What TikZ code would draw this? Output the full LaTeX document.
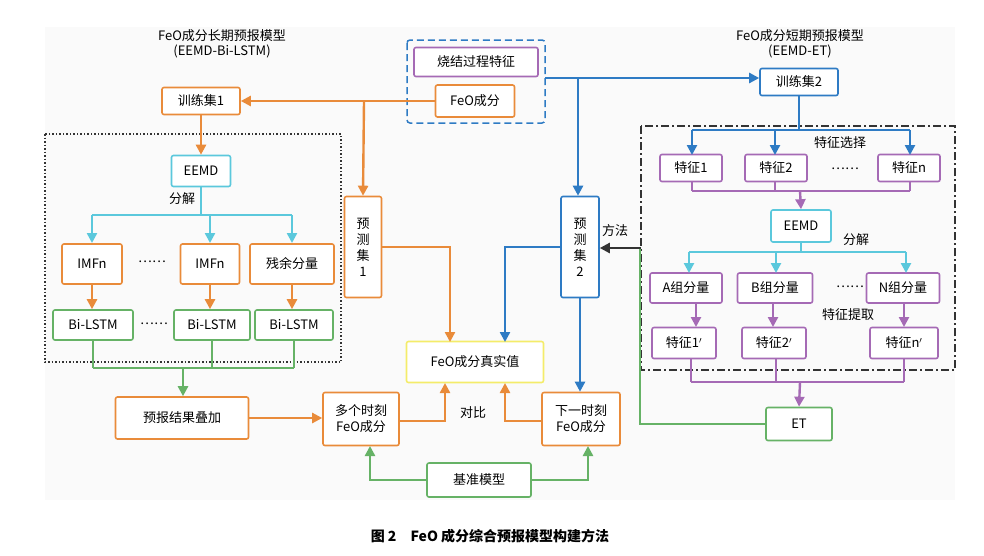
\documentclass[tikz,border=0pt]{standalone}
\usepackage{fontspec}
\setmainfont{Noto Sans CJK SC}
\usetikzlibrary{arrows.meta,calc}
\definecolor{cor}{HTML}{E98B3A}
\definecolor{cbl}{HTML}{2E7BC4}
\definecolor{ccy}{HTML}{5BC8DC}
\definecolor{cpu}{HTML}{A56AB5}
\definecolor{cgr}{HTML}{66B266}
\definecolor{cye}{HTML}{F4EC6A}
\tikzset{
 bx/.style={draw=#1,line width=1.6pt,rounded corners=2pt,fill=white,inner sep=0pt,font=\fontsize{13}{16}\selectfont,align=center},
 ln/.style={draw=#1,line width=2.4pt},
 ar/.style={draw=#1,line width=2.4pt,-{Triangle[length=10pt,width=10pt]},color=#1},
 lbl/.style={font=\fontsize{13}{15}\selectfont,inner sep=1pt},
}
\newcommand{\bxat}[7]{\node[bx=#1,minimum width=#4pt,minimum height=#5pt] (#6) at (#2,#3) {#7};}
\begin{document}
\begin{tikzpicture}[x=1pt,y=-1pt]
\useasboundingbox (0,0) rectangle (984,555);
\fill[black!2] (45,27) rectangle (955,500);
% titles
\node[lbl,align=center] (t1) at (222,44) {FeO成分长期预报模型\\(EEMD-Bi-LSTM)};
\node[lbl,align=center] (t2) at (800,44) {FeO成分短期预报模型\\(EEMD-ET)};
% frames
\draw[cbl,line width=1.5pt,dash pattern=on 7pt off 4pt,rounded corners=3pt] (407,40) rectangle (545,123);
\draw[black!80,line width=1.5pt,dotted] (45,134) rectangle (341,362);
\draw[black!80,line width=1.5pt,dash pattern=on 8pt off 3pt on 2pt off 3pt] (641,126) rectangle (955,370);
% boxes
\bxat{cpu}{476}{62}{124}{29}{sint}{烧结过程特征}
\bxat{cor}{475}{101}{79}{32}{feo}{FeO成分}
\bxat{cor}{201}{101}{78}{27}{tr1}{训练集1}
\bxat{ccy}{201}{171}{59}{31}{eemd1}{EEMD}
\bxat{cor}{92}{264}{60}{40}{imf1}{IMFn}
\bxat{cor}{210}{264}{59}{40}{imf2}{IMFn}
\bxat{cor}{292}{264}{84}{40}{res}{残余分量}
\bxat{cgr}{93}{325}{80}{30}{bl1}{Bi-LSTM}
\bxat{cgr}{212}{325}{76}{30}{bl2}{Bi-LSTM}
\bxat{cgr}{294}{325}{78}{30}{bl3}{Bi-LSTM}
\bxat{cor}{182}{418}{133}{42}{sum}{预报结果叠加}
\bxat{cor}{363}{247}{37}{101}{ts1}{预\\测\\集\\1}
\bxat{cbl}{580}{247}{38}{101}{ts2}{预\\测\\集\\2}
\bxat{cye}{475}{362}{137}{41}{true}{FeO成分真实值}
\bxat{cor}{361}{419}{76}{53}{multi}{多个时刻\\FeO成分}
\bxat{cor}{581}{419}{78}{53}{next}{下一时刻\\FeO成分}
\bxat{cgr}{479}{480}{104}{34}{base}{基准模型}
\bxat{cbl}{799}{82}{78}{27}{tr2}{训练集2}
\bxat{cpu}{691}{168}{62}{27}{f1}{特征1}
\bxat{cpu}{776}{168}{62}{27}{f2}{特征2}
\bxat{cpu}{909}{168}{62}{27}{fn}{特征\textit{n}}
\bxat{ccy}{801}{226}{60}{32}{eemd2}{EEMD}
\bxat{cpu}{686}{288}{72}{30}{ga}{\textit{A}组分量}
\bxat{cpu}{775}{288}{75}{30}{gb}{\textit{B}组分量}
\bxat{cpu}{903}{288}{73}{30}{gn}{\textit{N}组分量}
\bxat{cpu}{684}{343}{64}{31}{p1}{特征1$'$}
\bxat{cpu}{774}{343}{64}{31}{p2}{特征2$'$}
\bxat{cpu}{904}{343}{68}{31}{pn}{特征\textit{n}$'$}
\bxat{cgr}{799}{424}{66}{33}{et}{ET}
% labels
\node[lbl] (l1) at (182,199) {分解};
\node[lbl] (d1) at (152,262) {……};
\node[lbl] (d2) at (154,324) {……};
\node[lbl] (l2) at (840,143) {特征选择};
\node[lbl] (d3) at (845,169) {……};
\node[lbl] (l3) at (856,240) {分解};
\node[lbl] (d4) at (850,287) {……};
\node[lbl] (l4) at (848,315) {特征提取};
\node[lbl] (l5) at (615,231) {方法};
\node[lbl] (l6) at (473,413) {对比};
\node[font=\bfseries\fontsize{14}{16}\selectfont] (cap) at (490,536) {图 2\quad FeO 成分综合预报模型构建方法};
% orange connectors
\draw[ar=cor] (feo.west) -- (tr1.east);
\draw[ar=cor] (364,101) -- (ts1.north);
\draw[ar=cor] (tr1.south) -- (eemd1.north);
\draw[ar=cor] (imf1.south) -- (bl1.north -| imf1.south);
\draw[ar=cor] (imf2.south) -- (bl2.north -| imf2.south);
\draw[ar=cor] (res.south) -- (bl3.north -| res.south);
\draw[ar=cor] (ts1.east |- 247,247) -| (450,342);
\draw[ar=cor] (sum.east) -- (multi.west |- sum.east);
\draw[ar=cor] (multi.east |- 0,421) -| (445,383);
\draw[ar=cor] (next.west |- 0,421) -| (505,383);
% cyan
\draw[ln=ccy] (eemd1.south) -- (201,215);
\draw[ln=ccy] (92,215) -- (292,215);
\foreach \x/\n in {92/imf1,210/imf2,292/res}{\draw[ar=ccy] (\x,215) -- (\x,243);}
\draw[ln=ccy] (eemd2.south) -- (801,252);
\draw[ln=ccy] (689,252) -- (906,252);
\foreach \x in {689,776,906}{\draw[ar=ccy] (\x,252) -- (\x,273);}
% green
\foreach \x in {93,212,294}{\draw[ln=cgr] (\x,340) -- (\x,368);}
\draw[ln=cgr] (93,368) -- (294,368);
\draw[ar=cgr] (183,368) -- (sum.north -| 183,0);
\draw[ar=cgr] (base.west) -| (370,446);
\draw[ar=cgr] (base.east) -| (588,446);
\draw[ln=cgr] (et.west) -| (640,248);
% blue
\draw[ar=cbl] (545,78) -- (tr2.west |- 545,78);
\draw[ar=cbl] (578,78) -- (ts2.north -| 578,0);
\draw[ar=cbl] (ts2.west |- 0,247) -| (505,342);
\draw[ar=cbl] (ts2.south) -- (next.north -| ts2.south);
\draw[ln=cbl] (tr2.south) -- (799,130);
\draw[ln=cbl] (692,130) -- (910,130);
\foreach \x in {692,775,910}{\draw[ar=cbl] (\x,130) -- (\x,155);}
% purple
\foreach \x in {692,775,910}{\draw[ln=cpu] (\x,181) -- (\x,191);}
\draw[ln=cpu] (692,191) -- (910,191);
\draw[ar=cpu] (800,191) -- (eemd2.north);
\foreach \x in {696,773,904}{\draw[ar=cpu] (\x,303) -- (\x,327);}
\foreach \x in {691,776,904}{\draw[ln=cpu] (\x,358) -- (\x,382);}
\draw[ln=cpu] (691,382) -- (904,382);
\draw[ar=cpu] (800,382) -- (et.north);
% black
\draw[ar=black!80] (641,248) -- (ts2.east |- 0,248);
\end{tikzpicture}
\end{document}
